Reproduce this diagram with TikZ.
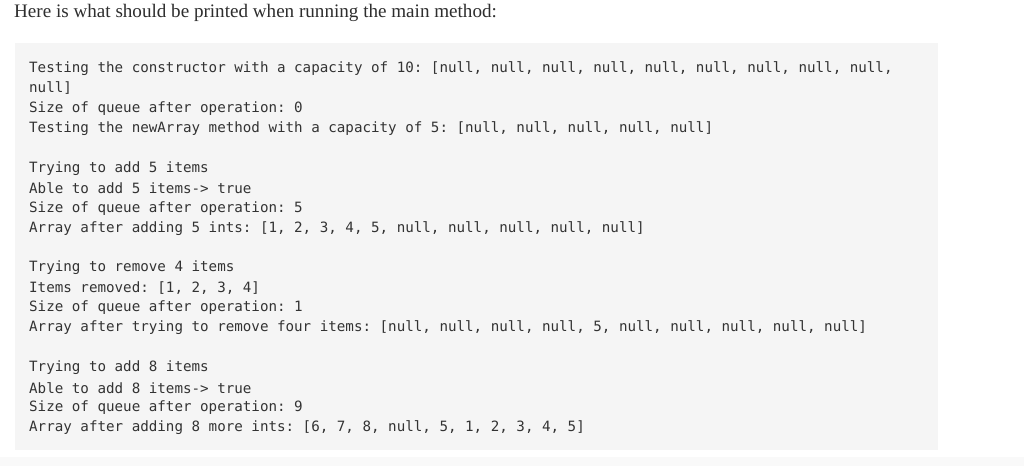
\documentclass[tikz,border=0pt]{standalone}
\usepackage{fontspec}
\setmainfont{Liberation Serif}
\setmonofont{DejaVu Sans Mono}
\definecolor{txt}{HTML}{333333}
\definecolor{boxbg}{HTML}{F5F5F5}
\begin{document}
\begin{tikzpicture}[x=1pt,y=1pt,
  code/.style={anchor=west,inner sep=0pt,font=\fontsize{14.2}{14}\ttfamily,text=txt},
  head/.style={anchor=west,inner sep=0pt,font=\fontsize{19.1}{19}\selectfont,text=txt!90!black}]
\useasboundingbox (0,0) rectangle (1024,-466);
\fill[white] (0,0) rectangle (1024,-466);
\fill[boxbg] (15,-43) rectangle (938,-450);
\fill[boxbg!60] (0,-457) rectangle (1024,-466);
\node[head] (h) at (14,-13) {Here is what should be printed when running the main method:};
\def\L#1#2{\node[code] (l#1) at (29,{-68.5-19.95*#1}) {#2};}
\L{0}{Testing the constructor with a capacity of 10: [null, null, null, null, null, null, null, null, null,}
\L{1}{null]}
\L{2}{Size of queue after operation: 0}
\L{3}{Testing the newArray method with a capacity of 5: [null, null, null, null, null]}
\L{5}{Trying to add 5 items}
\L{6}{Able to add 5 items-> true}
\L{7}{Size of queue after operation: 5}
\L{8}{Array after adding 5 ints: [1, 2, 3, 4, 5, null, null, null, null, null]}
\L{10}{Trying to remove 4 items}
\L{11}{Items removed: [1, 2, 3, 4]}
\L{12}{Size of queue after operation: 1}
\L{13}{Array after trying to remove four items: [null, null, null, null, 5, null, null, null, null, null]}
\L{15}{Trying to add 8 items}
\L{16}{Able to add 8 items-> true}
\L{17}{Size of queue after operation: 9}
\L{18}{Array after adding 8 more ints: [6, 7, 8, null, 5, 1, 2, 3, 4, 5]}
\end{tikzpicture}
\end{document}
